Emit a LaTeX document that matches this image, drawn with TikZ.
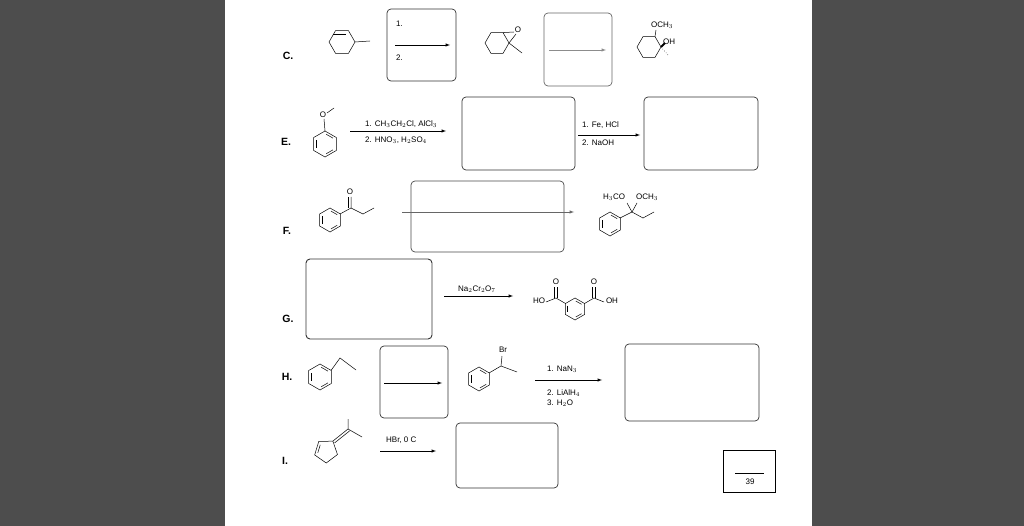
\documentclass[tikz,border=0pt]{standalone}
\usepackage{fontspec}
\setmainfont{Liberation Sans}
\usetikzlibrary{calc}
\begin{document}
\begin{tikzpicture}[x=1pt,y=-1pt,
  bx/.style={draw=black!80,rounded corners=4pt,line width=0.7pt},
  ar/.style={-latex,line width=0.5pt},
  lab/.style={font=\bfseries\fontsize{10.5}{10}\selectfont,inner sep=0},
  t/.style={font=\fontsize{8}{8}\selectfont,inner sep=0,anchor=west},
  a/.style={font=\fontsize{8}{8}\selectfont,inner sep=0},
  b/.style={line width=0.5pt}]
\fill[black!55!gray!90] (0,0) rectangle (1024,526);
\fill[white] (225,0) rectangle (812,526);
\useasboundingbox (0,0) rectangle (1024,526);
\newcommand\hexv[3]{\draw[b,shift={(#1,#2)}] (90:#3)--(30:#3)--(-30:#3)--(-90:#3)--(-150:#3)--(150:#3)--cycle;}
\newcommand\hexh[3]{\draw[b,shift={(#1,#2)}] (0:#3)--(60:#3)--(120:#3)--(180:#3)--(240:#3)--(300:#3)--cycle;}
\newcommand\benz[3]{\hexv{#1}{#2}{#3}\begin{scope}[shift={(#1,#2)}]
 \draw[b] ($(90:#3)!0.2!(30:#3)+(60:-2.2)$) -- ($(90:#3)!0.8!(30:#3)+(60:-2.2)$);
 \draw[b] ($(-30:#3)!0.2!(-90:#3)+(-60:-2.2)$) -- ($(-30:#3)!0.8!(-90:#3)+(-60:-2.2)$);
 \draw[b] ($(-150:#3)!0.2!(150:#3)+(180:-2.2)$) -- ($(-150:#3)!0.8!(150:#3)+(180:-2.2)$);
 \end{scope}}
% labels
\node[lab] (lc) at (288,56) {C.};
\node[lab] (le) at (286,142) {E.};
\node[lab] (lf) at (287,231) {F.};
\node[lab] (lg) at (288,319) {G.};
\node[lab] (lh) at (287,377) {H.};
\node[lab] (li) at (285,461) {I.};
% C
\hexh{342}{42}{13}
\draw[b] (355,42)--(370,41);
\draw[b] (332.5,34)--(346,34);
\draw[bx] (387,9) rectangle (456,81);
\node[t] (c1) at (396,24) {1.};
\node[t] (c2) at (396,58) {2.};
\coordinate (ca1) at (395,45); \coordinate (ca2) at (450,45);
\draw[ar] (ca1)--(ca2);
\hexh{497}{43}{12}
\draw[b] (509,43)--(522,53);
\node[a] (o1) at (518,30) {O};
\draw[b] (503,32.6)--(514,32) (509,43)--(516,34);
\draw[bx,draw=black!60] (544,13) rectangle (612,86);
\coordinate (cb1) at (549,50); \coordinate (cb2) at (606,50);
\draw[ar,draw=black!45] (cb1)--(cb2);
\hexh{649}{47}{12}
\node[t] (och) at (651,25) {OCH$_3$};
\node[t] (oh) at (663,42) {OH};
\draw[b] (655,36.5)--(656,30);
\draw[line width=1.8pt] (661,47)--(665,43);
\draw[b,dotted] (661,47)--(668,55);
% E
\benz{325}{144}{13}
\node[a] (oe) at (323,115) {O};
\draw[b] (325,131)--(324,119) (327,113)--(334,108);
\coordinate (ea1) at (350,131); \coordinate (ea2) at (446,131);
\draw[ar] (ea1)--(ea2);
\node[t] (et1) at (365,124) {1. CH$_3$CH$_2$Cl, AlCl$_3$};
\node[t] (et2) at (365,140) {2. HNO$_3$, H$_2$SO$_4$};
\draw[bx] (462,97) rectangle (575,170);
\coordinate (eb1) at (578,135); \coordinate (eb2) at (640,135);
\draw[ar] (eb1)--(eb2);
\node[t] (et3) at (582,125) {1. Fe, HCl};
\node[t] (et4) at (582,143) {2. NaOH};
\draw[bx] (644,97) rectangle (758,170);
% F
\benz{330}{220}{12}
\draw[b] (340,214)--(351,208)--(363,214)--(374,208) (351,208)--(351,197);
\draw[b] (348.5,208)--(348.5,197);
\node[a] (of) at (350,192) {O};
\draw[bx,draw=black!70] (411,181) rectangle (564,252);
\coordinate (fa1) at (402,212); \coordinate (fa2) at (574,212);
\draw[ar,draw=black!60] (fa1)--(fa2);
\benz{610}{224}{12}
\draw[b] (620,218)--(632,212)--(643,218)--(654,212) (632,212)--(627,203) (632,212)--(637,203);
\node[t] (h3co) at (603,197) {H$_3$CO};
\node[t] (och3f) at (636,197) {OCH$_3$};
% G
\draw[bx,line width=0.9pt] (306,259) rectangle (432,339);
\coordinate (ga1) at (444,296); \coordinate (ga2) at (513,296);
\draw[ar] (ga1)--(ga2);
\node[t] (na) at (458,289) {Na$_2$Cr$_2$O$_7$};
\benz{575}{309}{11}
\draw[b] (565.5,303.5)--(556,298)--(546,302) (584.5,303.5)--(594,298)--(604,302);
\draw[b] (554.5,298)--(554.5,287) (557.5,298)--(557.5,287) (592.5,298)--(592.5,287) (595.5,298)--(595.5,287);
\node[a] (og1) at (556,282) {O};
\node[a] (og2) at (594,282) {O};
\node[a] (hog) at (539,301) {HO};
\node[a] (ohg) at (612,301) {OH};
% H
\benz{320}{377}{13}
\draw[b] (331,370.5)--(340,358)--(356,370);
\draw[bx] (380,346) rectangle (448,418);
\coordinate (ha1) at (384,383); \coordinate (ha2) at (442,383);
\draw[ar] (ha1)--(ha2);
\benz{479}{379}{12}
\draw[b] (489,373)--(501,366)--(517,372) (501,366)--(502,356);
\node[a] (br) at (503,350) {Br};
\coordinate (hb1) at (535,380); \coordinate (hb2) at (602,380);
\draw[ar] (hb1)--(hb2);
\node[t] (h1) at (547,369) {1. NaN$_3$};
\node[t] (h2) at (547,393) {2. LiAlH$_4$};
\node[t] (h3) at (547,403) {3. H$_2$O};
\draw[bx] (625,344) rectangle (759,421);
% I
\begin{scope}[shift={(326,451)}]
\draw[b] (-55:12)--(17:12)--(89:12)--(161:12)--(233:12)--cycle;
\draw[b] ($(161:12)!0.2!(233:12)+(17:2.4)$)--($(161:12)!0.8!(233:12)+(17:2.4)$);
\end{scope}
\draw[b] (333,441)--(348,429) (334.5,443)--(349.5,431) (348,429)--(348,419) (348,429)--(362,437);
\coordinate (ia1) at (380,451); \coordinate (ia2) at (436,451);
\draw[ar] (ia1)--(ia2);
\node[t] (hbr) at (386,440) {HBr, 0 C};
\draw[bx] (456,423) rectangle (558,488);
% score
\draw[line width=0.5pt] (723,450) rectangle (775,492);
\draw[line width=0.6pt] (735,473)--(764,473);
\node[a] (sc) at (750,482) {39};
\end{tikzpicture}
\end{document}
